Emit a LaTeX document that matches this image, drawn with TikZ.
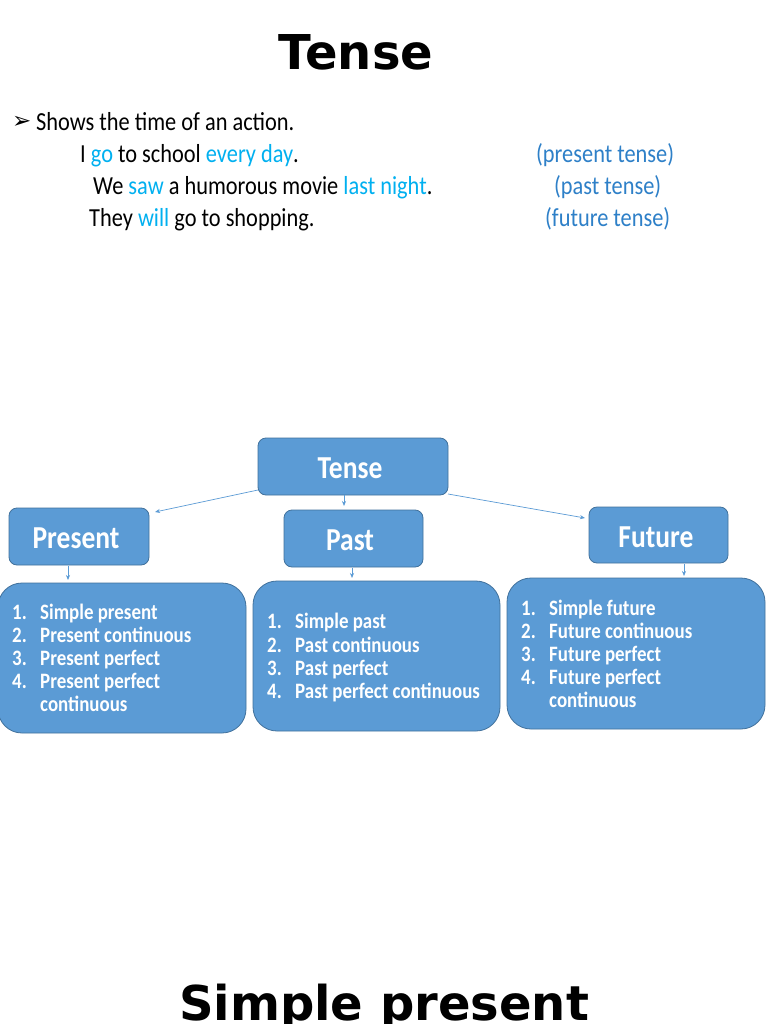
\documentclass[tikz,border=0pt]{standalone}
\usepackage{fontspec}
\setmainfont{Carlito}[FakeStretch=0.86]
\newfontfamily\titlefont{DejaVu Sans}
\newfontfamily\symfont{DejaVu Sans}
\usetikzlibrary{arrows.meta}
\definecolor{boxblue}{RGB}{91,155,213}
\definecolor{boxedge}{RGB}{65,113,156}
\definecolor{hl}{RGB}{0,176,240}
\definecolor{tl}{RGB}{46,128,200}
\tikzset{
  title/.style={anchor=base,font=\titlefont\bfseries\fontsize{48}{56}\selectfont,inner sep=0},
  body/.style={anchor=base west,font=\fontsize{26}{30}\selectfont,inner sep=0},
  tensebox/.style={draw=boxedge,line width=0.8pt,fill=boxblue,rounded corners=8pt},
  listbox/.style={draw=boxedge,line width=0.8pt,fill=boxblue,rounded corners=24pt},
  boxlabel/.style={text=white,font=\bfseries\fontsize{32}{36}\selectfont,inner sep=0},
  item/.style={anchor=base west,text=white,font=\bfseries\fontsize{22}{24}\selectfont,inner sep=0},
  conn/.style={draw=boxblue,line width=0.7pt,-{Stealth[length=5pt,width=4pt]}}
}
\begin{document}
\begin{tikzpicture}[x=1pt,y=-1pt]
\useasboundingbox[fill=white] (0,0) rectangle (768,1024);
% title
\node[title] (t1) at (356,70) {Tense};
% bullet text
\node[anchor=base west,inner sep=0,font=\symfont\fontsize{23}{26}\selectfont] (bul) at (12,129) {➢};
\node[body] (s0) at (36,131) {Shows the time of an action.};
\node[body] (s1) at (80,163) {I \textcolor{hl}{go} to school \textcolor{hl}{every day}.};
\node[body] (s2) at (93,195) {We \textcolor{hl}{saw} a humorous movie \textcolor{hl}{last night}.};
\node[body] (s3) at (89,226) {They \textcolor{hl}{will} go to shopping.};
\node[body,text=tl] (l1) at (536,163) {(present tense)};
\node[body,text=tl] (l2) at (554,195) {(past tense)};
\node[body,text=tl] (l3) at (545,226) {(future tense)};
% boxes
\draw[tensebox] (258,438) rectangle (448,495);
\node[boxlabel] (tense) at (350,468) {Tense};
\coordinate (tenseL) at (258,490);
\coordinate (tenseR) at (448,494);
\coordinate (tenseB) at (344,495);
\draw[tensebox] (9,508) rectangle (149,565);
\node[boxlabel] (pres) at (76,538) {Present};
\draw[tensebox] (284,510) rectangle (423,567);
\node[boxlabel] (past) at (350,540) {Past};
\draw[tensebox] (589,507) rectangle (728,563);
\node[boxlabel] (fut) at (656,537) {Future};
\coordinate (presIn) at (155,512);
\coordinate (pastIn) at (344,506);
\coordinate (futIn) at (585,518);
\draw[conn] (tenseL) -- (presIn);
\draw[conn] (tenseB) -- (pastIn);
\draw[conn] (tenseR) -- (futIn);
% list boxes
\draw[listbox] (-2,583) rectangle (246,733);
\draw[listbox] (253,581) rectangle (500,731);
\draw[listbox] (507,578) rectangle (765,729);
\coordinate (presB) at (68,566);
\coordinate (presL) at (68,580);
\coordinate (pastB) at (352,568);
\coordinate (pastL) at (352,578);
\coordinate (futB) at (684,564);
\coordinate (futL) at (684,576);
\draw[conn] (presB) -- (presL);
\draw[conn] (pastB) -- (pastL);
\draw[conn] (futB) -- (futL);
% present list
\node[item] (pn1) at (12,619) {1.};
\node[item] (pi1) at (40,619) {Simple present};
\node[item] (pn2) at (12,642) {2.};
\node[item] (pi2) at (40,642) {Present continuous};
\node[item] (pn3) at (12,665) {3.};
\node[item] (pi3) at (40,665) {Present perfect};
\node[item] (pn4) at (12,688) {4.};
\node[item] (pi4) at (40,688) {Present perfect};
\node[item] (pi5) at (40,711) {continuous};
% past list
\node[item] (an1) at (267,628) {1.};
\node[item] (ai1) at (295,628) {Simple past};
\node[item] (an2) at (267,652) {2.};
\node[item] (ai2) at (295,652) {Past continuous};
\node[item] (an3) at (267,675) {3.};
\node[item] (ai3) at (295,675) {Past perfect};
\node[item] (an4) at (267,698) {4.};
\node[item] (ai4) at (295,698) {Past perfect continuous};
% future list
\node[item] (fn1) at (521,615) {1.};
\node[item] (fi1) at (549,615) {Simple future};
\node[item] (fn2) at (521,638) {2.};
\node[item] (fi2) at (549,638) {Future continuous};
\node[item] (fn3) at (521,661) {3.};
\node[item] (fi3) at (549,661) {Future perfect};
\node[item] (fn4) at (521,684) {4.};
\node[item] (fi4) at (549,684) {Future perfect};
\node[item] (fi5) at (549,707) {continuous};
% bottom title
\node[title] (t2) at (384,1020) {Simple present};
\end{tikzpicture}
\end{document}
